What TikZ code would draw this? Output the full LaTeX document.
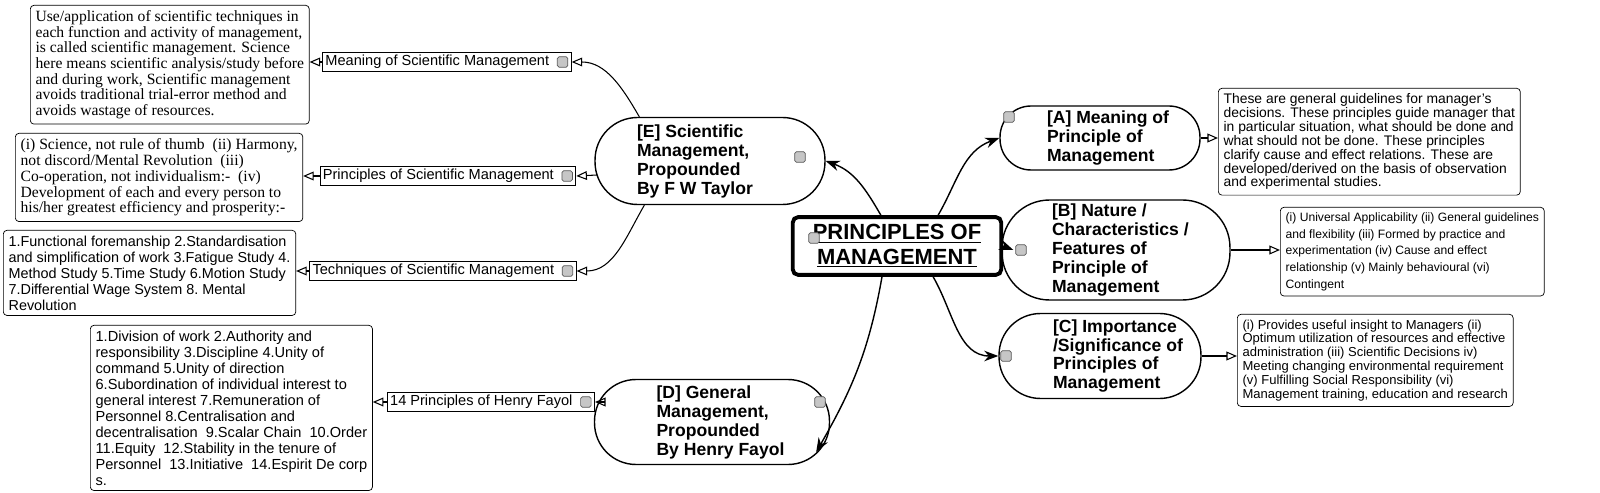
\documentclass[tikz,border=0pt]{standalone}
\usepackage{fontspec}
\setmainfont{Liberation Sans}
\newfontfamily\serifbox{Liberation Serif}
\usetikzlibrary{arrows.meta,positioning}
\tikzset{
  hub/.style={draw, line width=2.2pt, rounded corners=3pt, align=center,
    inner xsep=0.4cm, inner ysep=4pt, font=\fontsize{12.5}{14}\selectfont\bfseries},
  topic/.style={draw, thick, inner sep=0pt, font=\fontsize{10}{10.8}\selectfont\bfseries},
  tag/.style={draw, semithick, inner sep=1.5pt, font=\fontsize{8.3}{9}\selectfont},
  note/.style={draw, rounded corners=2pt, align=left, inner sep=3pt},
  btn/.style={draw=gray!70!black, fill=gray!45, rounded corners=1pt,
    minimum width=6pt, minimum height=6pt, inner sep=0pt},
  solid arrow/.style={thick, -{Stealth[length=8pt,width=6pt]}},
  open arrow/.style={semithick, -{Triangle[open,length=6pt,width=5pt]}},
}
\newcommand{\topictext}[3]{\hspace*{#1}\parbox{#2}{\raggedright #3}}
\newcommand{\tagtext}[1]{#1\hspace*{11pt}\mbox{}}
\begin{document}
\begin{tikzpicture}[x=0.02cm,y=-0.02cm]
    \useasboundingbox (0,0) rectangle (1600,493);

    % Centre
    \node[hub] (hub) at (897,246) {\underline{PRINCIPLES OF}\\\underline{MANAGEMENT}};
    \node[btn] at (814,238) {};

    % Topics
    \node[topic, minimum width=4.6cm, minimum height=1.74cm, rounded corners=0.85cm] (E) at (710,161)
        {\topictext{0.84cm}{3.76cm}{[E] Scientific\\Management,\\Propounded\\By F W Taylor}};
    \node[topic, minimum width=4.7cm, minimum height=1.7cm, rounded corners=0.83cm] (D) at (712,422)
        {\topictext{1.24cm}{3.46cm}{[D] General\\Management,\\Propounded\\By Henry Fayol}};
    \node[topic, minimum width=4.0cm, minimum height=1.28cm, rounded corners=0.62cm] (A) at (1100,138)
        {\topictext{0.94cm}{3.06cm}{[A] Meaning of\\Principle of\\Management}};
    \node[topic, minimum width=4.56cm, minimum height=2.0cm, rounded corners=0.95cm] (B) at (1116,250)
        {\topictext{1.0cm}{3.56cm}{[B] Nature /\\Characteristics /\\Features of\\Principle of\\Management}};
    \node[topic, minimum width=4.04cm, minimum height=1.7cm, rounded corners=0.83cm] (C) at (1100,356)
        {\topictext{1.08cm}{2.96cm}{[C] Importance\\/Significance of\\Principles of\\Management}};
    \foreach \p in {(800,157),(820,402),(1009,117),(1021,250),(1006,356)}
        \node[btn] at \p {};

    % Tags on the left
    \node[tag] (tMeaning) at (447,62) {\tagtext{Meaning of Scientific Management}};
    \node[tag] (tPrinc) at (448,176) {\tagtext{Principles of Scientific Management}};
    \node[tag] (tTech) at (443,271) {\tagtext{Techniques of Scientific Management}};
    \node[tag] (tFayol) at (491,402) {\tagtext{14 Principles of Henry Fayol}};
    \foreach \t in {tMeaning,tPrinc,tTech,tFayol}
        \node[btn, left=2pt of \t.east] {};

    % Notes
    \node[note, anchor=north west, font=\serifbox\fontsize{8.9}{8.9}\selectfont] (nMeaning) at (30,5)
        {Use/application of scientific techniques in\\each function and activity of management,\\is called scientific management. Science\\here means scientific analysis/study before\\and during work, Scientific management\\avoids traditional trial-error method and\\avoids wastage of resources.};
    \node[note, anchor=north west, font=\serifbox\fontsize{8.9}{9}\selectfont] (nPrinc) at (15,133)
        {(i) Science, not rule of thumb\ \ (ii) Harmony,\\not discord/Mental Revolution\ \ (iii)\\Co-operation, not individualism:-\ \ (iv)\\Development of each and every person to\\his/her greatest efficiency and prosperity:-};
    \node[note, anchor=north west, font=\fontsize{8.2}{9.1}\selectfont] (nTech) at (3,230)
        {1.Functional foremanship 2.Standardisation\\and simplification of work 3.Fatigue Study 4.\\Method Study 5.Time Study 6.Motion Study\\7.Differential Wage System 8.\ Mental\\Revolution};
    \node[note, anchor=north west, font=\fontsize{8.3}{9.1}\selectfont] (nFayol) at (90,325)
        {1.Division of work 2.Authority and\\responsibility 3.Discipline 4.Unity of\\command 5.Unity of direction\\6.Subordination of individual interest to\\general interest 7.Remuneration of\\Personnel 8.Centralisation and\\decentralisation\ \ 9.Scalar Chain\ \ 10.Order\\11.Equity\ \ 12.Stability in the tenure of\\Personnel\ \ 13.Initiative\ \ 14.Espirit De corp\\s.};
    \node[note, anchor=north west, font=\fontsize{7.9}{7.9}\selectfont] (nA) at (1218,88)
        {These are general guidelines for manager's\\decisions. These principles guide manager that\\in particular situation, what should be done and\\what should not be done. These principles\\clarify cause and effect relations. These are\\developed/derived on the basis of observation\\and experimental studies.};
    \node[note, anchor=north west, font=\fontsize{6.9}{9.5}\selectfont] (nB) at (1280,207)
        {(i) Universal Applicability (ii) General guidelines\\and flexibility (iii) Formed by practice and\\experimentation (iv) Cause and effect\\relationship (v) Mainly behavioural (vi)\\Contingent};
    \node[note, anchor=north west, font=\fontsize{7.4}{7.9}\selectfont] (nC) at (1237,314)
        {(i) Provides useful insight to Managers (ii)\\Optimum utilization of resources and effective\\administration (iii) Scientific Decisions iv)\\Meeting changing environmental requirement\\(v) Fulfilling Social Responsibility (vi)\\Management training, education and research};

    % Hub to topics
    \coordinate (dIn) at ([shift={(-14,30)}]D.east);
    \coordinate (bIn) at ([shift={(12,0)}]B.west);
    \draw[solid arrow] (hub.north west) ++(90,0) to[out=120,in=-20] (E.east);
    \draw[solid arrow] (hub.south) ++(-15,0) to[out=-100,in=60] (dIn);
    \draw[solid arrow] (hub.north east) ++(-65,0) to[out=60,in=200] (A.west);
    \draw[solid arrow] (hub.east) -- (bIn);
    \draw[solid arrow] (hub.south east) ++(-70,0) to[out=-60,in=180] (C.west);

    % Topics to tags
    \draw[open arrow] (E.north west) ++(45,0) to[out=120,in=0] (tMeaning.east);
    \draw[open arrow] (E.west) ++(3,14) -- (tPrinc.east);
    \draw[open arrow] (E.south west) ++(50,0) to[out=-120,in=0] (tTech.east);
    \draw[open arrow] (D.west) ++(3,-20) -- (tFayol.east);

    % Tags and topics to notes
    \draw[open arrow] (tMeaning.west) -- (tMeaning.west -| nMeaning.east);
    \draw[open arrow] (tPrinc.west) -- (tPrinc.west -| nPrinc.east);
    \draw[open arrow] (tTech.west) -- (tTech.west -| nTech.east);
    \draw[open arrow] (tFayol.west) -- (tFayol.west -| nFayol.east);
    \draw[open arrow] (A.east) -- (A.east -| nA.west);
    \draw[open arrow] (B.east) -- (B.east -| nB.west);
    \draw[open arrow] (C.east) -- (C.east -| nC.west);
\end{tikzpicture}
\end{document}
